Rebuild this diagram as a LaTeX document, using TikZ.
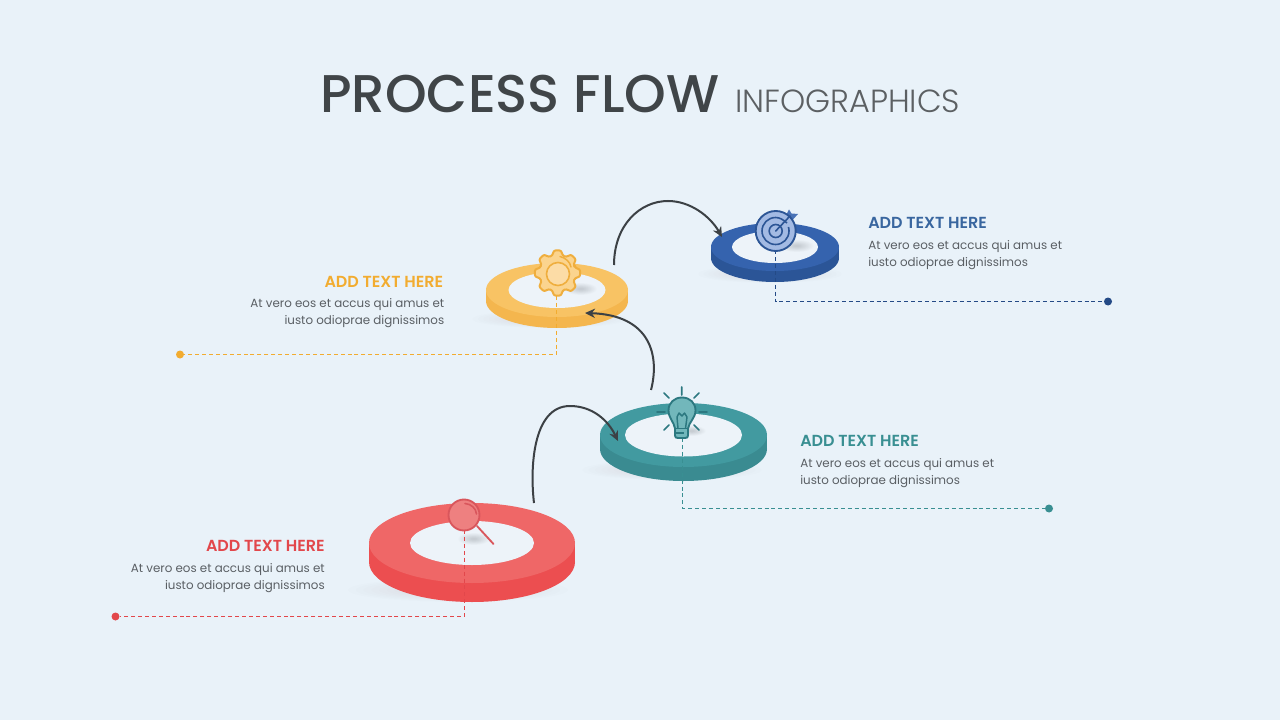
\documentclass[tikz,border=0pt]{standalone}
\usepackage{fontspec}
\setmainfont{Poppins}
\newfontfamily\popmed{Poppins Medium}
\newfontfamily\popsemi{Poppins SemiBold}
\newfontfamily\poplight{Poppins Light}
\usetikzlibrary{arrows.meta,calc}
\definecolor{bgc}{HTML}{E9F2F9}
\definecolor{holec}{HTML}{EDF3F9}
\definecolor{ink}{HTML}{3C4145}
\definecolor{titlec}{HTML}{404548}
\definecolor{subc}{HTML}{5C6063}
\definecolor{bodyc}{HTML}{5A5F64}
\definecolor{redA}{HTML}{EF6767}\definecolor{redS}{HTML}{EC4E50}\definecolor{redT}{HTML}{E2474B}\definecolor{redI}{HTML}{EE8080}\definecolor{redL}{HTML}{D9565C}
\definecolor{yelA}{HTML}{F8C364}\definecolor{yelS}{HTML}{F4B64E}\definecolor{yelT}{HTML}{F2AC30}\definecolor{yelI}{HTML}{FBD48E}\definecolor{yelL}{HTML}{EFAE3E}\definecolor{yelH}{HTML}{FCDCA6}
\definecolor{teaA}{HTML}{429AA0}\definecolor{teaS}{HTML}{3A8B91}\definecolor{teaT}{HTML}{398F92}\definecolor{teaI}{HTML}{72B7BB}\definecolor{teaL}{HTML}{2C7880}
\definecolor{bluA}{HTML}{3563AE}\definecolor{bluS}{HTML}{2B5597}\definecolor{bluT}{HTML}{39669F}\definecolor{bluI}{HTML}{A3BAE3}\definecolor{bluL}{HTML}{2C5595}\definecolor{bluD}{HTML}{244A86}
\tikzset{x=0.75pt,y=-0.75pt,
  flowarrow/.style={draw=ink,line width=1.5pt,-{Stealth[length=7.5pt,width=7pt]}},
  leader/.style={line width=0.75pt,dash pattern=on 3pt off 2.2pt},
  headtext/.style={inner sep=0pt,font=\popsemi\fontsize{12}{14}\selectfont},
  bodytext/.style={inner sep=0pt,text=bodyc,font=\fontsize{8.9}{12.75}\selectfont},
  endpoint/.style={circle,inner sep=0pt,minimum size=6pt},
}
% soft blurred ellipse: x, y, rx, ry, colour, opacity step
\newcommand{\softshadow}[6]{\foreach \k in {1,0.93,...,0.1}{\fill[#5,opacity=#6] (#1,#2) ellipse ({#3*\k} and {#4*\k});}}
% ring: x y rx ry thick holerx holery top side
\newcommand{\ring}[9]{%
  \fill[#9] ({#1-#3},#2) rectangle ({#1+#3},{#2+#5});
  \fill[#9] (#1,{#2+#5}) ellipse ({#3} and {#4});
  \fill[#8] (#1,#2) ellipse ({#3} and {#4});
  \fill[holec] (#1,#2) ellipse ({#6} and {#7});
}
\begin{document}
\begin{tikzpicture}
\useasboundingbox (0,0) rectangle (1280,720);
\fill[bgc] (0,0) rectangle (1280,720);

% title
\node[inner sep=0pt,anchor=base west,text=titlec,font=\popmed\fontsize{39.8}{44}\selectfont] (title) at (320,113) {PROCESS FLOW};
\node[inner sep=0pt,anchor=base west,text=subc,font=\poplight\fontsize{24}{30}\selectfont] (subtitle) at (735,113) {INFOGRAPHICS};

% shadows under rings
\softshadow{458}{590}{110}{12}{black!60}{0.006}
\softshadow{672}{470}{90}{10}{black!60}{0.006}
\softshadow{550}{319}{78}{9}{black!60}{0.006}
\softshadow{770}{274}{72}{9}{black!60}{0.006}

% rings
\ring{472}{543}{103}{40}{19}{62}{22}{redA}{redS}
\ring{683.5}{435}{83.5}{32}{14}{58.5}{21.5}{teaA}{teaS}
\ring{557}{290}{71}{27}{11}{48.5}{18}{yelA}{yelS}
\ring{775}{247}{64}{24}{11}{43}{16}{bluA}{bluS}

% shadows below icons
\softshadow{474}{539}{16}{6}{black!70}{0.015}
\softshadow{692}{431}{14}{5}{black!70}{0.015}
\softshadow{581}{289}{16}{6}{black!70}{0.015}
\softshadow{797}{246}{17}{6}{black!70}{0.015}

% leaders
\coordinate (redtop) at (464.5,530); \coordinate (redcorner) at (464.5,616.5);
\coordinate (teatop) at (682.5,438); \coordinate (teacorner) at (682.5,508.5);
\coordinate (yeltop) at (556.5,296); \coordinate (yelcorner) at (556.5,354.5);
\coordinate (blutop) at (775.5,250); \coordinate (blucorner) at (775.5,301.5);
\node[endpoint,fill=redT] (redend) at (115.5,616.5) {};
\node[endpoint,fill=teaT] (teaend) at (1049,508.5) {};
\node[endpoint,fill=yelT] (yelend) at (180,354.5) {};
\node[endpoint,fill=bluD] (bluend) at (1108,301.5) {};
\draw[leader,draw=redT] (redtop) -- (redcorner) -- (redend);
\draw[leader,draw=teaT] (teatop) -- (teacorner) -- (teaend);
\draw[leader,draw=yelT] (yeltop) -- (yelcorner) -- (yelend);
\draw[leader,draw=bluD] (blutop) -- (blucorner) -- (bluend);

% flow arrows
\coordinate (a1s) at (534,503); \coordinate (a1e) at (618,441);
\coordinate (a2s) at (651,390); \coordinate (a2e) at (585,313);
\coordinate (a3s) at (614,265); \coordinate (a3e) at (722,237);
\draw[flowarrow] (a1s) .. controls (530,470) and (532,406) .. (570,406) .. controls (592,406) and (608,420) .. (a1e);
\draw[flowarrow] (a2s) .. controls (660,355) and (650,315) .. (a2e);
\draw[flowarrow] (a3s) .. controls (614,225) and (640,201) .. (668,201) .. controls (690,201) and (710,216) .. (a3e);

% magnifier
\draw[redL,line width=1.4pt,line cap=round] (477,526) -- (493.5,544);
\draw[redL,line width=1.4pt,fill=redI] (464,515) circle (15.5);
\draw[redL,line width=1.2pt,line cap=round] (465,503.5) .. controls (471,504) and (476,508) .. (476.5,514);

% gear
\coordinate (gearc) at (557.5,273);
\draw[yelL,line width=1.5pt,fill=yelI,line join=round,rounded corners=1.8pt]
  ($(gearc)+(-15:18.2)$)
  \foreach \a in {0,45,...,315}{
    -- ($(gearc)+(\a-10:23)$) -- ($(gearc)+(\a+10:23)$) -- ($(gearc)+(\a+15:18.2)$) -- ($(gearc)+(\a+30:18.2)$)
  } -- cycle;
\draw[yelL,line width=1.2pt,fill=yelH] (558,274) circle (11.5);
\draw[yelL,line width=1.1pt,line cap=round] (560,256.5) .. controls (566,258) and (570,262) .. (571,267);

% bulb
\draw[teaL,line width=1.3pt,line cap=round]
  (681.7,387) -- (681.7,395) (664,393) -- (669,398) (699,393) -- (694,398)
  (657,412) -- (665,412) (699,412) -- (707,412) (664,430) -- (669,425) (699,430) -- (694,425);
\draw[teaL,line width=1.4pt,fill=teaI,line join=round]
  (682,397.5) .. controls (690,397.5) and (695.5,403) .. (695.5,410.5)
  .. controls (695.5,418) and (689,422) .. (688,428.5)
  -- (688,435.5) .. controls (688,437.5) and (687,438) .. (685,438)
  -- (678,438) .. controls (676,438) and (675,437.5) .. (675,435.5)
  -- (675,428.5) .. controls (674,422) and (668.5,418) .. (668.5,410.5)
  .. controls (668.5,403) and (674,397.5) .. (682,397.5) -- cycle;
\draw[teaL,line width=1.1pt,line join=round]
  (678,428.5) -- (677,417) -- (679,413) -- (682,416) -- (684.5,413) -- (687,417) -- (685.5,428.5);
\draw[teaL,line width=1.1pt] (675,428.5) -- (688,428.5) (675,433) -- (684,433);

% target
\fill[bluA!90!white] (785,217) -- (789,209.5) -- (791.5,213.5) -- (798,214) -- (793,219.5) -- (788,222) -- cycle;
\draw[bluL,line width=1.4pt,fill=bluI] (775.7,231) circle (20);
\draw[bluL,line width=1.2pt] (787,223) .. controls (783,219.5) and (779.5,217.5) .. (775.7,217.5)
  .. controls (768,217.5) and (762,223.5) .. (762,231) .. controls (762,238.5) and (768,244.5) .. (775.7,244.5)
  .. controls (783,244.5) and (789,238.5) .. (789,231) .. controls (789,229) and (788.8,228) .. (788.4,227);
\draw[bluL,line width=1.2pt] (775.7,231) circle (6.5);
\draw[bluL,line width=1.2pt,line cap=round] (775.7,231) -- (790,216);

% texts
\node[headtext,text=redT,anchor=east] (redhead) at (325,546) {ADD TEXT HERE};
\node[bodytext,anchor=east,align=right] (redbody) at (325,578) {At vero eos et accus qui amus et\\iusto odioprae dignissimos};
\node[headtext,text=teaT,anchor=west] (teahead) at (800,441) {ADD TEXT HERE};
\node[bodytext,anchor=west,align=left] (teabody) at (800,473) {At vero eos et accus qui amus et\\iusto odioprae dignissimos};
\node[headtext,text=yelT,anchor=east] (yelhead) at (443.5,282) {ADD TEXT HERE};
\node[bodytext,anchor=east,align=right] (yelbody) at (444.5,313) {At vero eos et accus qui amus et\\iusto odioprae dignissimos};
\node[headtext,text=bluT,anchor=west] (bluhead) at (868,223) {ADD TEXT HERE};
\node[bodytext,anchor=west,align=left] (blubody) at (868,255) {At vero eos et accus qui amus et\\iusto odioprae dignissimos};
\end{tikzpicture}
\end{document}
